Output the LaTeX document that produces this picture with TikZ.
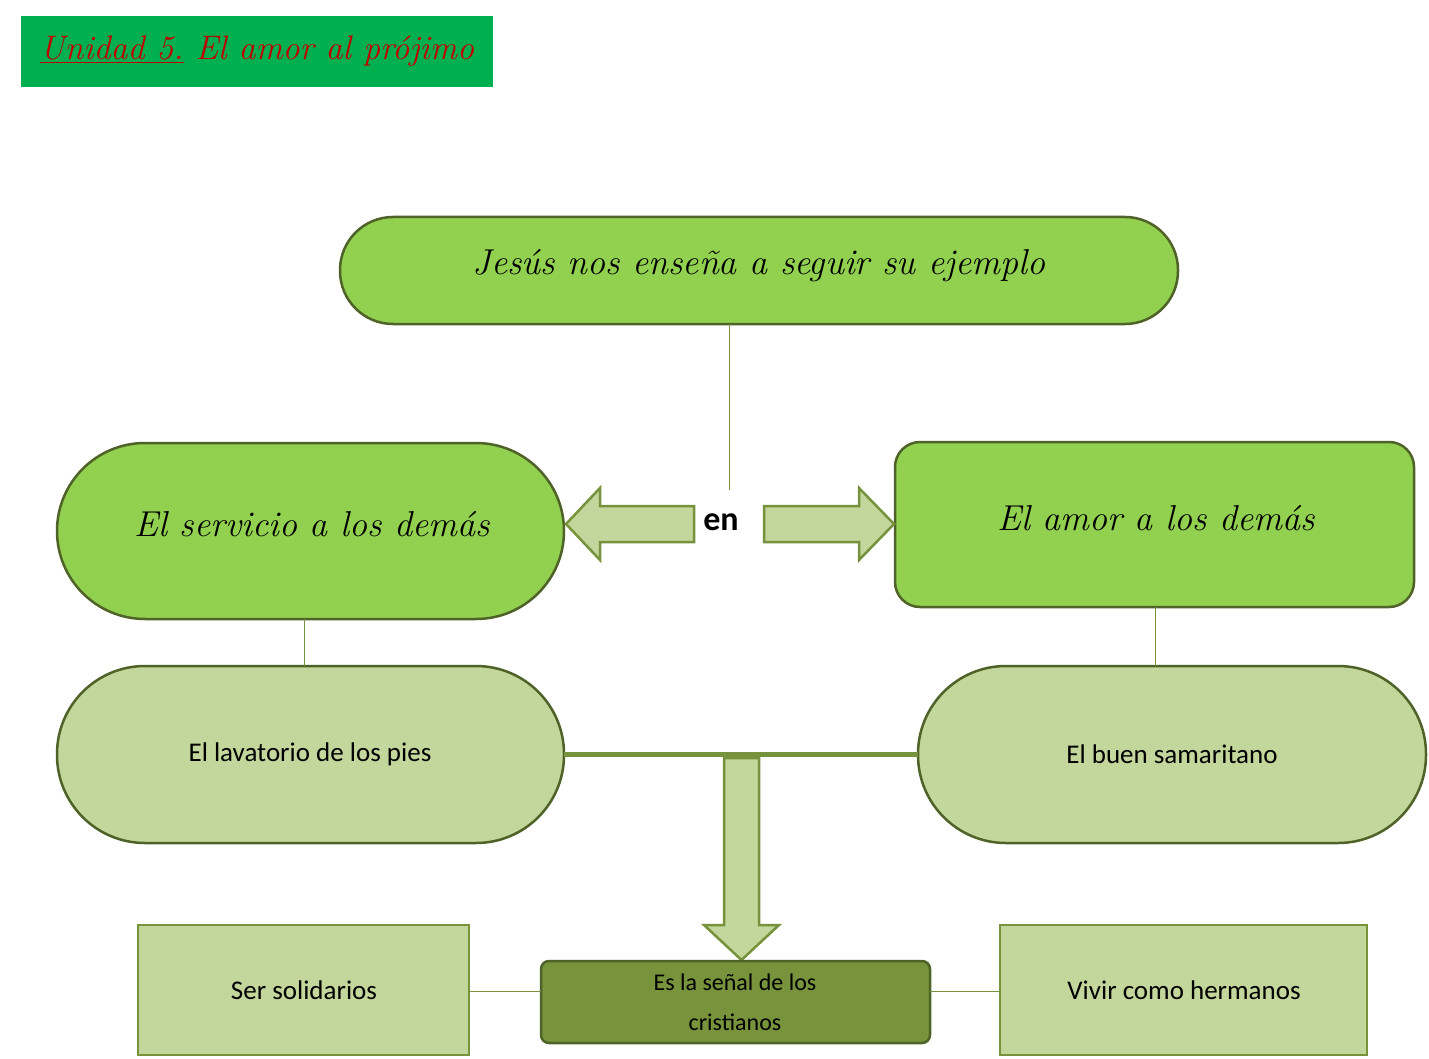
\documentclass[tikz,border=0pt]{standalone}
\usepackage{fontspec}
\setsansfont{Carlito}
\usetikzlibrary{shapes.arrows}
\definecolor{dg}{RGB}{79,98,40}
\definecolor{mg}{RGB}{146,208,80}
\definecolor{lg}{RGB}{195,214,155}
\definecolor{og}{RGB}{119,147,60}
\definecolor{ln}{RGB}{118,146,60}
\definecolor{tg}{RGB}{0,176,80}
\definecolor{tr}{RGB}{192,0,0}
\tikzset{
 pill/.style={draw=dg,line width=2.5pt,rounded corners=#1},
 scr/.style={font=\itshape\fontsize{36}{40}\selectfont},
 sans/.style={font=\sffamily\fontsize{27}{30}\selectfont},
 conn/.style={draw=ln,line width=1pt},
 barrow/.style={draw=ln,line width=2.5pt,fill=lg}
}
\begin{document}
\begin{tikzpicture}[x=1pt,y=-1pt]
\useasboundingbox[fill=white] (0,0) rectangle (1429,1059);
\node[fill=tg,minimum width=472pt,minimum height=71pt,inner sep=0pt] (title) at (257,51.5) {};
\node[text=tr,font=\itshape\fontsize{34}{36}\selectfont] (tt) at (257,51.5) {\underline{Unidad 5.} El amor al prójimo};
\draw[pill=53pt,fill=mg] (340,217) rectangle (1178,324);
\node[scr] (top) at (759,266) {Jesús nos enseña a seguir su ejemplo};
\draw[pill=88pt,fill=mg] (57,443) rectangle (564,619);
\node[scr] (serv) at (312,524) {El servicio a los demás};
\draw[pill=25pt,fill=mg] (895,442) rectangle (1414,607);
\node[scr] (amor) at (1156,518) {El amor a los demás};
\draw[pill=88pt,fill=lg] (57,666) rectangle (564,843);
\node[sans] (lav) at (310,754) {El lavatorio de los pies};
\draw[pill=88pt,fill=lg] (918,666) rectangle (1426,843);
\node[sans] (sam) at (1172,754) {El buen samaritano};
\coordinate (t1) at (729,324); \coordinate (t2) at (729,490);
\draw[conn] (t1) -- (t2);
\node[font=\sffamily\bfseries\fontsize{34}{36}\selectfont] (en) at (721,522) {en};
\draw[barrow] (694,506) -- (600,506) -- (600,488) -- (566,524) -- (600,560) -- (600,542) -- (694,542) -- cycle;
\draw[barrow] (764,506) -- (859,506) -- (859,488) -- (894,524) -- (859,560) -- (859,542) -- (764,542) -- cycle;
\coordinate (l1) at (304,619); \coordinate (l2) at (304,666);
\coordinate (r1) at (1155,607); \coordinate (r2) at (1155,666);
\draw[conn] (l1) -- (l2); \draw[conn] (r1) -- (r2);
\coordinate (h1) at (564,754); \coordinate (h2) at (918,754);
\draw[draw=ln,line width=5pt] (h1) -- (h2);
\draw[barrow] (724,758) -- (759,758) -- (759,925) -- (779,925) -- (741.5,960) -- (704,925) -- (724,925) -- cycle;
\draw[draw=og,line width=2.5pt,fill=lg] (138,925) rectangle (469,1055);
\node[sans] (sol) at (304,990) {Ser solidarios};
\draw[draw=og,line width=2.5pt,fill=lg] (1000,925) rectangle (1367,1055);
\node[sans] (her) at (1184,990) {Vivir como hermanos};
\draw[draw=dg,line width=2.5pt,fill=og,rounded corners=8pt] (541,961) rectangle (930,1043);
\node[sans,font=\sffamily\fontsize{24}{40}\selectfont,align=center] (sen) at (735,1002) {Es la señal de los\\cristianos};
\coordinate (a1) at (469,991); \coordinate (a2) at (541,991);
\coordinate (b1) at (930,991); \coordinate (b2) at (1000,991);
\draw[conn] (a1) -- (a2); \draw[conn] (b1) -- (b2);
\end{tikzpicture}
\end{document}
